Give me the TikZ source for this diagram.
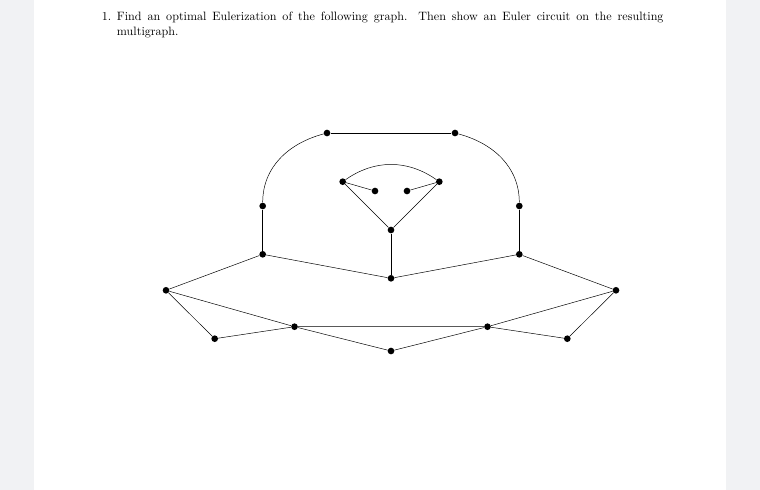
\documentclass[tikz,border=0pt]{standalone}
\usepackage{xcolor}
\definecolor{pagegrey}{RGB}{241,242,244}
\tikzset{
    vtx/.style={circle, fill=black, inner sep=0pt, minimum size=5.5pt},
    txt/.style={inner sep=0pt, anchor=base west}
}
\begin{document}
\begin{tikzpicture}[x=0.826pt, y=-0.826pt]
        \useasboundingbox (0, 0) rectangle (760, 490);
        \fill[pagegrey] (0, 0) rectangle (760, 490);
        \fill[white] (34, 0) rectangle (726, 490);
        \node[txt, anchor=base east] at (111.5, 20.7) (num) {1.};
        \node[txt] at (116.7, 20.7) (line1) {\makebox[451.5pt][s]{Find an optimal Eulerization of the following graph.  Then show an Euler circuit on the resulting}};
        \node[txt] at (116.7, 35.3) (line2) {multigraph.};
        \node[vtx] at (327, 133) (t1) {};
        \node[vtx] at (455, 133) (t2) {};
        \node[vtx] at (262.7, 206) (l1) {};
        \node[vtx] at (519.3, 206) (r1) {};
        \node[vtx] at (342.7, 181.7) (il) {};
        \node[vtx] at (439.3, 181.7) (ir) {};
        \node[vtx] at (375, 191) (pl) {};
        \node[vtx] at (407, 191) (pr) {};
        \node[vtx] at (391, 230) (a) {};
        \node[vtx] at (262.7, 254.3) (l2) {};
        \node[vtx] at (519.3, 254.3) (r2) {};
        \node[vtx] at (391, 278.3) (c) {};
        \node[vtx] at (166, 290.3) (fl) {};
        \node[vtx] at (616, 290.3) (fr) {};
        \node[vtx] at (294.5, 326.7) (ml) {};
        \node[vtx] at (487.5, 326.7) (mr) {};
        \node[vtx] at (214.7, 338.7) (bl) {};
        \node[vtx] at (567.3, 338.7) (br) {};
        \node[vtx] at (391, 351) (b) {};
        \draw (t1) -- (t2);
        \draw (t1) to[out=195, in=90] (l1);
        \draw (t2) to[out=-15, in=90] (r1);
        \draw (l1) -- (l2);
        \draw (r1) -- (r2);
        \draw (il) to[bend left=35] (ir);
        \draw (il) -- (pl);
        \draw (ir) -- (pr);
        \draw (il) -- (a) -- (ir);
        \draw (a) -- (c);
        \draw (l2) -- (c) -- (r2);
        \draw (fl) -- (l2);
        \draw (fr) -- (r2);
        \draw (fl) -- (bl) -- (ml) -- (mr) -- (br) -- (fr);
        \draw (fl) -- (ml) -- (b) -- (mr) -- (fr);
    \end{tikzpicture}
\end{document}
